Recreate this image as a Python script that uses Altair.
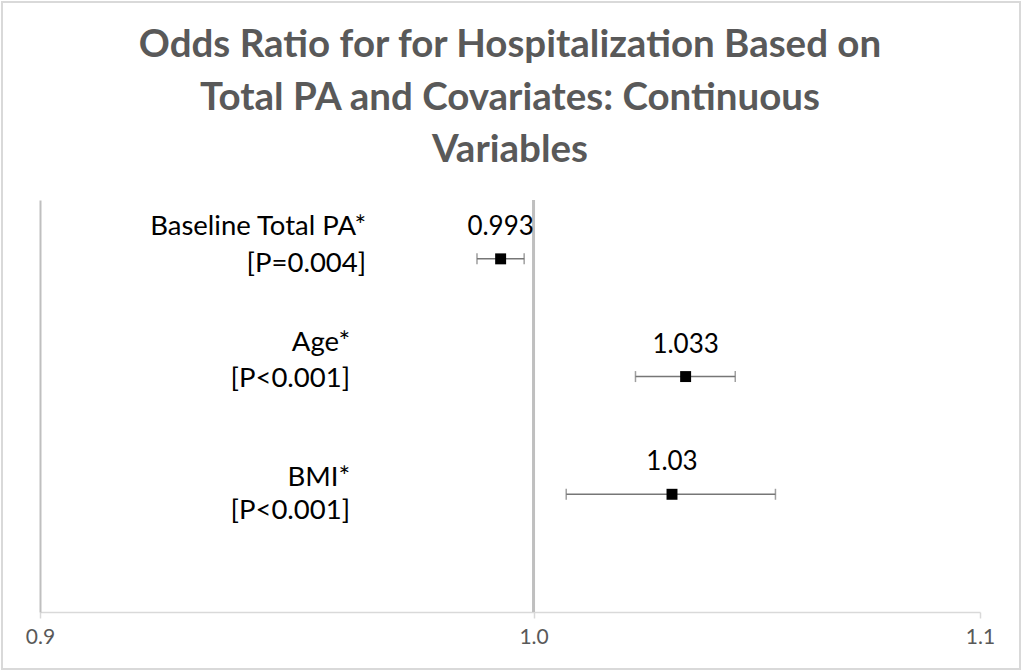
import altair as alt
import pandas as pd

# ---- data ----
categories = ["Baseline Total PA*", "Age*", "BMI*"]
p_values = ["[P=0.004]", "[P<0.001]", "[P<0.001]"]
row_pos = [3, 2, 1]
odds_ratio = [0.993, 1.033, 1.03]
ci_low = [0.988, 1.022, 1.007]
ci_high = [0.998, 1.044, 1.053]
label_anchor = [0.9649, 0.9616, 0.9616]
x_ticks = [0.9, 1.0, 1.1]
title_lines = [
    "Odds Ratio for for Hospitalization Based on",
    "Total PA and Covariates: Continuous",
    "Variables",
]

# ---- layout ----
PLOT_W, PLOT_H = 940, 412
Y_MAX = 3.5
PX_PER_UNIT = PLOT_H / Y_MAX
# pixel offsets of the two label lines from each row's centre
line_offsets = [(-32, 5), (-34, 2), (-16, 17)]
# title baselines, measured from the top of the plot area
title_baselines = [-143, -90, -38]
FONT = "Lato"

df = pd.DataFrame({
    "cat": categories, "y": row_pos, "or": odds_ratio,
    "lo": ci_low, "hi": ci_high,
})

lab_rows = []
for c, p, y, ax, (o1, o2) in zip(categories, p_values, row_pos, label_anchor, line_offsets):
    lab_rows.append({"text": c, "x": ax, "y": y - o1 / PX_PER_UNIT})
    lab_rows.append({"text": p, "x": ax, "y": y - o2 / PX_PER_UNIT})
labels = pd.DataFrame(lab_rows)

xscale = alt.Scale(type="log", domain=[0.9, 1.1], nice=False, zero=False)
yscale = alt.Scale(domain=[0, Y_MAX], nice=False, zero=True)

x_axis = alt.Axis(
    values=x_ticks, format=".1f", title=None, grid=False,
    domainColor="#d9d9d9", domainWidth=1.5, tickColor="#d9d9d9", tickWidth=1.5,
    tickSize=6, labelFont=FONT, labelFontSize=21, labelColor="#595959",
    labelPadding=8, labelFlush=False,
)
y_axis = alt.Axis(
    title=None, labels=False, ticks=False, grid=False,
    domainColor="#bfbfbf", domainWidth=2,
)

base = alt.Chart(df)

ref = alt.Chart(pd.DataFrame({"x": [1.0]})).mark_rule(
    color="#bfbfbf", strokeWidth=3
).encode(x=alt.X("x:Q", scale=xscale, axis=x_axis))

whisker = base.mark_rule(color="#767676", strokeWidth=1.5).encode(
    x=alt.X("lo:Q", scale=xscale), x2="hi:Q",
    y=alt.Y("y:Q", scale=yscale, axis=y_axis),
)
cap_lo = base.mark_tick(orient="vertical", color="#767676", size=11, thickness=1.5).encode(
    x=alt.X("lo:Q", scale=xscale), y=alt.Y("y:Q", scale=yscale)
)
cap_hi = base.mark_tick(orient="vertical", color="#767676", size=11, thickness=1.5).encode(
    x=alt.X("hi:Q", scale=xscale), y=alt.Y("y:Q", scale=yscale)
)
points = base.mark_square(size=120, color="black", opacity=1).encode(
    x=alt.X("or:Q", scale=xscale), y=alt.Y("y:Q", scale=yscale)
)
values = base.mark_text(
    font=FONT, fontSize=26, color="black", dy=-32, baseline="middle"
).encode(
    x=alt.X("or:Q", scale=xscale), y=alt.Y("y:Q", scale=yscale),
    text=alt.Text("or:Q", format="~g"),
)
cat_text = alt.Chart(labels).mark_text(
    font=FONT, fontSize=27.5, color="black", align="right", baseline="middle"
).encode(
    x=alt.X("x:Q", scale=xscale), y=alt.Y("y:Q", scale=yscale), text="text:N"
)

# title, one text mark per line, centred over the plot
title_layers = [
    alt.Chart(pd.DataFrame({"t": [line]})).mark_text(
        font=FONT, fontSize=38.5, fontWeight="bold", color="#595959",
        align="center", baseline="alphabetic", clip=False,
    ).encode(x=alt.value(PLOT_W / 2), y=alt.value(yb), text="t:N")
    for line, yb in zip(title_lines, title_baselines)
]

# light frame around the whole figure
frame = alt.Chart(pd.DataFrame({"a": [0]})).mark_rect(
    fill=None, stroke="#d9d9d9", strokeWidth=2, clip=False
).encode(
    x=alt.value(-38), x2=alt.value(PLOT_W + 40),
    y=alt.value(-198), y2=alt.value(PLOT_H + 57),
)

chart = alt.layer(
    frame, ref, whisker, cap_lo, cap_hi, points, values, cat_text, *title_layers
).properties(
    width=PLOT_W, height=PLOT_H,
    autosize=alt.AutoSizeParams(type="none"),
    padding={"left": 40, "top": 200, "right": 43, "bottom": 60},
).configure(background="white").configure_view(stroke=None)

chart.save("out.html", embed_options={"renderer": "svg", "actions": False})
